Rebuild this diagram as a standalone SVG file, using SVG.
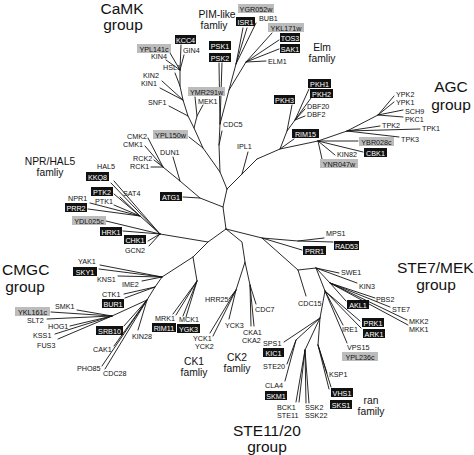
<svg xmlns="http://www.w3.org/2000/svg" width="474" height="455" viewBox="0 0 474 455">
<style>
text{font-family:"Liberation Sans",Arial,sans-serif;fill:#111}
.t{font-size:7.2px}
.b rect{fill:#111}
.b text{fill:#fff;font-size:7.2px;text-anchor:middle}
.g rect{fill:#bcbcbc}
.g text{font-size:7.2px;text-anchor:middle}
.grp{font-size:15.5px}
.fam{font-size:10.3px;text-anchor:middle}
.c{text-anchor:middle}
#connectors path{fill:none;stroke:#111;stroke-width:0.9;stroke-linecap:round;stroke-linejoin:round}
</style>
<rect width="474" height="455" fill="#fff"/>
<g id="connectors">
<path d="M227 189 L223 207 L226 229"/>
<path d="M227 189 L220 172 L203 148 L189 137 M203 148 L194 128 L197 116 L203 105 M197 116 L195 97 M194 128 L188 116 L169 106 M188 116 L183 100 L160 88 M183 100 L162 81 M183 100 L180 86 L175 73 M180 86 L180 70 L166 60 M180 70 L170 53 M180 70 L184 55 M180 70 L181 45"/>
<path d="M220 172 L219 145 L222 131 M219 145 L220 124 L219 63 M220 124 L222 63 M220 124 L229 90 L236 64 L243 28 M236 64 L247 28 M236 64 L256 23 M229 90 L246 62 L272 33 M246 62 L279 40 M246 62 L279 49 M246 62 L266 61"/>
<path d="M227 189 L257 159 M242 174 L248 152 M257 159 L280 149 L287 131 L292 105 M287 131 L295 120 L309 89 M295 120 L311 98 M295 120 L305 109 M295 120 L305 116 M280 149 L294 139 M280 149 L318 141 L347 131 L378 115 L394 96 M378 115 L394 102 M378 115 L403 110 M378 115 L403 117 M347 131 L380 126 M347 131 L420 129 M347 131 L399 137 M318 141 L358 141 M318 141 L363 152 M318 141 L335 155 M318 141 L322 159"/>
<path d="M223 207 L200 198 L183 197 M200 198 L180 181 L163 167 L154 160 M163 167 L151 167 M163 167 L148 138 M163 167 L145 146 M180 181 L173 157"/>
<path d="M226 229 L208 242 L160 234 L111 183 M160 234 L114 181 M160 234 L148 241 M160 234 L149 246 M160 234 L123 231 M160 234 L106 221 M160 234 L140 216 L88 209 M140 216 L90 203 M140 216 L114 205 M140 216 L114 194 M140 216 L120 197"/>
<path d="M208 242 L193 257 L162 277 L100 265 M162 277 L99 269 M162 277 L118 276 M162 277 L142 281 M162 277 L155 287 L124 294 M155 287 L125 298 M155 287 L147 300 L112 316 L51 312 M112 316 L77 310 M112 316 L47 319 M112 316 L70 326 M112 316 L55 334 M112 316 L58 339 M147 300 L124 326 M147 300 L138 330 M147 300 L114 346 M147 300 L102 366 M147 300 L105 369"/>
<path d="M193 257 L197 281 L173 314 M197 281 L176 315 M197 281 L183 316 M197 281 L186 317"/>
<path d="M226 229 L242 242 L245 262 L236 290 L229 299 M236 290 L229 319 M236 290 L210 333 M236 290 L213 336 M245 262 L250 285 L256 304 M250 285 L251 326 M250 285 L254 326"/>
<path d="M226 229 L262 238 L302 250 M262 238 L298 241 L324 238 M298 241 L333 242 M262 238 L298 270 L306 296 M298 270 L316 268 L339 273 M316 268 L357 283 M316 268 L330 283 L375 298 M330 283 L346 301 M330 283 L390 307 M330 283 L407 320 M330 283 L408 325 M316 268 L325 291 L360 321 M325 291 L361 328 M325 291 L343 325 M325 291 L347 343"/>
<path d="M325 291 L320 318 L284 342 M320 318 L296 340 L287 364 M296 340 L285 381 M320 318 L305 350 L296 402 M305 350 L299 402 M305 350 L306 403 M305 350 L309 403 M320 318 L318 345 L327 373 M318 345 L331 387 M318 345 L329 389"/>
</g>
<g id="group-labels">
<text class="grp c" x="122" y="14">CaMK</text><text class="grp c" x="123" y="30">group</text>
<text class="grp c" x="451" y="92">AGC</text><text class="grp c" x="451" y="110">group</text>
<text class="grp" x="2" y="275">CMGC</text><text class="grp c" x="25" y="292">group</text>
<text class="grp" x="397" y="273">STE7/MEK</text><text class="grp c" x="436" y="290">group</text>
<text class="grp" x="233" y="436">STE11/20</text><text class="grp c" x="267" y="452">group</text>
<text class="fam" x="217" y="18">PIM-like</text><text class="fam" x="214" y="29">famliy</text>
<text class="fam" x="322" y="51">Elm</text><text class="fam" x="322" y="62">famliy</text>
<text class="fam" x="50" y="165">NPR/HAL5</text><text class="fam" x="50" y="176">famliy</text>
<text class="fam" x="194" y="365">CK1</text><text class="fam" x="194" y="376">famliy</text>
<text class="fam" x="237" y="361">CK2</text><text class="fam" x="237" y="372">famliy</text>
<text class="fam" x="371" y="404">ran</text><text class="fam" x="371" y="415">family</text>
</g>
<g id="n-YPL141c" class="g"><rect x="137" y="44" width="34" height="9"/><text x="154" y="51.5">YPL141c</text></g>
<g id="n-KIN4"><text class="t" x="151" y="59">KIN4</text></g>
<g id="n-KCC4" class="b"><rect x="175" y="35" width="21" height="9"/><text x="185.5" y="42.5">KCC4</text></g>
<g id="n-GIN4"><text class="t" x="183" y="53">GIN4</text></g>
<g id="n-HSL1"><text class="t" x="163" y="70">HSL1</text></g>
<g id="n-KIN2"><text class="t" x="143" y="78">KIN2</text></g>
<g id="n-KIN1"><text class="t" x="141" y="86">KIN1</text></g>
<g id="n-SNF1"><text class="t" x="148" y="105">SNF1</text></g>
<g id="n-YMR291w" class="g"><rect x="188" y="87" width="37" height="9"/><text x="206.5" y="94.5">YMR291w</text></g>
<g id="n-MEK1"><text class="t" x="198" y="104">MEK1</text></g>
<g id="n-PSK1" class="b"><rect x="209" y="41" width="22" height="9"/><text x="220" y="48.5">PSK1</text></g>
<g id="n-PSK2" class="b"><rect x="209" y="53" width="22" height="9"/><text x="220" y="60.5">PSK2</text></g>
<g id="n-CDC5"><text class="t" x="223" y="127">CDC5</text></g>
<g id="n-YPL150w" class="g"><rect x="153" y="130" width="35" height="9"/><text x="170.5" y="137.5">YPL150w</text></g>
<g id="n-YGR052w" class="g"><rect x="238" y="4" width="36" height="9"/><text x="256" y="11.5">YGR052w</text></g>
<g id="n-ISR1" class="b"><rect x="236" y="17" width="19" height="9"/><text x="245.5" y="24.5">ISR1</text></g>
<g id="n-BUB1"><text class="t" x="259" y="21">BUB1</text></g>
<g id="n-YKL171w" class="g"><rect x="268" y="23" width="36" height="9"/><text x="286" y="30.5">YKL171w</text></g>
<g id="n-TOS3" class="b"><rect x="280" y="33" width="20" height="9"/><text x="290" y="40.5">TOS3</text></g>
<g id="n-SAK1" class="b"><rect x="280" y="44" width="20" height="9"/><text x="290" y="51.5">SAK1</text></g>
<g id="n-ELM1"><text class="t" x="268" y="64">ELM1</text></g>
<g id="n-IPL1"><text class="t" x="237" y="149">IPL1</text></g>
<g id="n-PKH1" class="b"><rect x="308" y="79" width="23" height="9"/><text x="319.5" y="86.5">PKH1</text></g>
<g id="n-PKH2" class="b"><rect x="310" y="89" width="23" height="9"/><text x="321.5" y="96.5">PKH2</text></g>
<g id="n-PKH3" class="b"><rect x="274" y="95" width="21" height="9"/><text x="284.5" y="102.5">PKH3</text></g>
<g id="n-DBF20"><text class="t" x="307" y="109">DBF20</text></g>
<g id="n-DBF2"><text class="t" x="307" y="117">DBF2</text></g>
<g id="n-RIM15" class="b"><rect x="292" y="129" width="27" height="9"/><text x="305.5" y="136.5">RIM15</text></g>
<g id="n-YPK2"><text class="t" x="396" y="97">YPK2</text></g>
<g id="n-YPK1"><text class="t" x="396" y="105">YPK1</text></g>
<g id="n-SCH9"><text class="t" x="405" y="113.5">SCH9</text></g>
<g id="n-PKC1"><text class="t" x="405" y="121.5">PKC1</text></g>
<g id="n-TPK2"><text class="t" x="382" y="128">TPK2</text></g>
<g id="n-TPK1"><text class="t" x="422" y="131">TPK1</text></g>
<g id="n-TPK3"><text class="t" x="401" y="142">TPK3</text></g>
<g id="n-YBR028c" class="g"><rect x="359" y="137" width="35" height="9"/><text x="376.5" y="144.5">YBR028c</text></g>
<g id="n-CBK1" class="b"><rect x="364" y="148" width="23" height="9"/><text x="375.5" y="155.5">CBK1</text></g>
<g id="n-KIN82"><text class="t" x="337" y="157">KIN82</text></g>
<g id="n-YNR047w" class="g"><rect x="320" y="159" width="38" height="9"/><text x="339" y="166.5">YNR047w</text></g>
<g id="n-DUN1"><text class="t" x="160" y="155">DUN1</text></g>
<g id="n-CMK2"><text class="t" x="127" y="139">CMK2</text></g>
<g id="n-CMK1"><text class="t" x="123" y="147">CMK1</text></g>
<g id="n-RCK2"><text class="t" x="133" y="161">RCK2</text></g>
<g id="n-RCK1"><text class="t" x="130" y="169">RCK1</text></g>
<g id="n-ATG1" class="b"><rect x="160" y="192" width="22" height="9"/><text x="171" y="199.5">ATG1</text></g>
<g id="n-HAL5"><text class="t" x="97" y="169">HAL5</text></g>
<g id="n-KKQ8" class="b"><rect x="86" y="172" width="23" height="9"/><text x="97.5" y="179.5">KKQ8</text></g>
<g id="n-PTK2" class="b"><rect x="91" y="187" width="22" height="9"/><text x="102" y="194.5">PTK2</text></g>
<g id="n-SAT4"><text class="t" x="123" y="196">SAT4</text></g>
<g id="n-NPR1"><text class="t" x="68" y="201">NPR1</text></g>
<g id="n-PTK1"><text class="t" x="95" y="204">PTK1</text></g>
<g id="n-PRR2" class="b"><rect x="65" y="203" width="22" height="9"/><text x="76" y="210.5">PRR2</text></g>
<g id="n-YDL025c" class="g"><rect x="72" y="216" width="34" height="9"/><text x="89" y="223.5">YDL025c</text></g>
<g id="n-HRK1" class="b"><rect x="100" y="227" width="22" height="9"/><text x="111" y="234.5">HRK1</text></g>
<g id="n-CHK1" class="b"><rect x="124" y="235" width="22" height="9"/><text x="135" y="242.5">CHK1</text></g>
<g id="n-GCN2"><text class="t" x="125" y="253">GCN2</text></g>
<g id="n-YAK1"><text class="t" x="78" y="264">YAK1</text></g>
<g id="n-SKY1" class="b"><rect x="73" y="267" width="24" height="9"/><text x="85" y="274.5">SKY1</text></g>
<g id="n-KNS1"><text class="t" x="97" y="282">KNS1</text></g>
<g id="n-IME2"><text class="t" x="122" y="287">IME2</text></g>
<g id="n-CTK1"><text class="t" x="102" y="297">CTK1</text></g>
<g id="n-BUR1" class="b"><rect x="102" y="299" width="22" height="9"/><text x="113" y="306.5">BUR1</text></g>
<g id="n-YKL161c" class="g"><rect x="15" y="307" width="35" height="9"/><text x="32.5" y="314.5">YKL161c</text></g>
<g id="n-SMK1"><text class="t" x="55" y="309">SMK1</text></g>
<g id="n-SLT2"><text class="t" x="27" y="323">SLT2</text></g>
<g id="n-HOG1"><text class="t" x="48" y="329">HOG1</text></g>
<g id="n-KSS1"><text class="t" x="33" y="338">KSS1</text></g>
<g id="n-FUS3"><text class="t" x="37" y="348">FUS3</text></g>
<g id="n-SRB10" class="b"><rect x="96" y="326" width="27" height="9"/><text x="109.5" y="333.5">SRB10</text></g>
<g id="n-KIN28"><text class="t" x="132" y="339">KIN28</text></g>
<g id="n-CAK1"><text class="t" x="93" y="352">CAK1</text></g>
<g id="n-PHO85"><text class="t" x="77" y="371">PHO85</text></g>
<g id="n-CDC28"><text class="t" x="103" y="376">CDC28</text></g>
<g id="n-MRK1"><text class="t" x="155" y="321">MRK1</text></g>
<g id="n-RIM11" class="b"><rect x="152" y="323" width="24" height="9"/><text x="164" y="330.5">RIM11</text></g>
<g id="n-MCK1"><text class="t" x="179" y="322">MCK1</text></g>
<g id="n-YGK3" class="b"><rect x="177" y="324" width="23" height="9"/><text x="188.5" y="331.5">YGK3</text></g>
<g id="n-HRR25"><text class="t" x="205" y="302">HRR25</text></g>
<g id="n-YCK3"><text class="t" x="225" y="328">YCK3</text></g>
<g id="n-YCK1"><text class="t" x="193" y="341">YCK1</text></g>
<g id="n-YCK2"><text class="t" x="195" y="349">YCK2</text></g>
<g id="n-CDC7"><text class="t" x="255" y="312">CDC7</text></g>
<g id="n-CKA1"><text class="t" x="243" y="335">CKA1</text></g>
<g id="n-CKA2"><text class="t" x="242" y="343">CKA2</text></g>
<g id="n-PRR1" class="b"><rect x="303" y="246" width="23" height="9"/><text x="314.5" y="253.5">PRR1</text></g>
<g id="n-MPS1"><text class="t" x="326" y="236">MPS1</text></g>
<g id="n-RAD53" class="b"><rect x="334" y="241" width="25" height="9"/><text x="346.5" y="248.5">RAD53</text></g>
<g id="n-CDC15"><text class="t" x="298" y="306">CDC15</text></g>
<g id="n-SWE1"><text class="t" x="341" y="275">SWE1</text></g>
<g id="n-KIN3"><text class="t" x="359" y="289">KIN3</text></g>
<g id="n-PBS2"><text class="t" x="376" y="302">PBS2</text></g>
<g id="n-STE7"><text class="t" x="392" y="312">STE7</text></g>
<g id="n-AKL1" class="b"><rect x="347" y="300" width="22" height="9"/><text x="358" y="307.5">AKL1</text></g>
<g id="n-MKK2"><text class="t" x="409" y="324">MKK2</text></g>
<g id="n-MKK1"><text class="t" x="409" y="332">MKK1</text></g>
<g id="n-PRK1" class="b"><rect x="362" y="318" width="22" height="9"/><text x="373" y="325.5">PRK1</text></g>
<g id="n-ARK1" class="b"><rect x="363" y="329" width="22" height="9"/><text x="374" y="336.5">ARK1</text></g>
<g id="n-IRE1"><text class="t" x="342" y="332">IRE1</text></g>
<g id="n-VPS15"><text class="t" x="347" y="350">VPS15</text></g>
<g id="n-YPL236c" class="g"><rect x="342" y="352" width="36" height="9"/><text x="360" y="359.5">YPL236c</text></g>
<g id="n-SPS1"><text class="t" x="263" y="346">SPS1</text></g>
<g id="n-KIC1" class="b"><rect x="263" y="348" width="21" height="9"/><text x="273.5" y="355.5">KIC1</text></g>
<g id="n-STE20"><text class="t" x="263" y="369">STE20</text></g>
<g id="n-CLA4"><text class="t" x="265" y="388">CLA4</text></g>
<g id="n-SKM1" class="b"><rect x="265" y="391" width="22" height="9"/><text x="276" y="398.5">SKM1</text></g>
<g id="n-BCK1"><text class="t" x="277" y="410">BCK1</text></g>
<g id="n-STE11"><text class="t" x="277" y="418">STE11</text></g>
<g id="n-SSK2"><text class="t" x="305" y="410">SSK2</text></g>
<g id="n-SSK22"><text class="t" x="305" y="418">SSK22</text></g>
<g id="n-KSP1"><text class="t" x="329" y="377">KSP1</text></g>
<g id="n-VHS1" class="b"><rect x="331" y="388" width="22" height="9"/><text x="342" y="395.5">VHS1</text></g>
<g id="n-SKS1" class="b"><rect x="330" y="400" width="22" height="9"/><text x="341" y="407.5">SKS1</text></g>
</svg>
